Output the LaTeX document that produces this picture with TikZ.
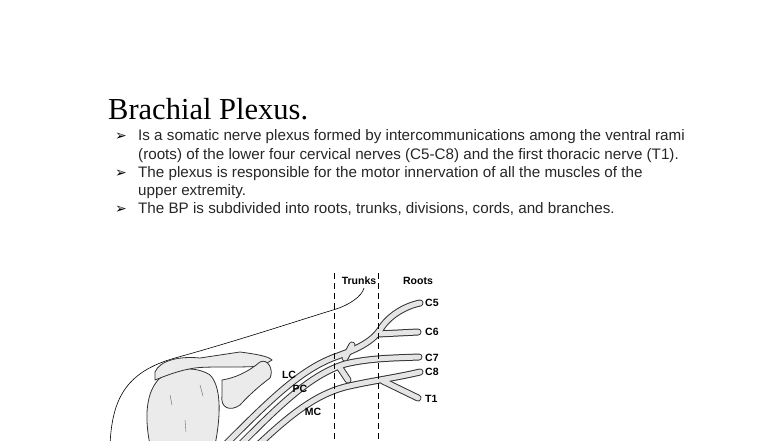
\documentclass[tikz,border=0pt]{standalone}
\usepackage{fontspec}
\setmainfont{Liberation Serif}
\newfontfamily\arial{Liberation Sans}
\newfontfamily\dv{DejaVu Sans}
\begin{document}
\begin{tikzpicture}[x=1pt,y=-1pt,
  bul/.style={anchor=base west,inner sep=0pt,font=\arial\fontsize{15.2}{16}\selectfont,text=black!85},
  arr/.style={anchor=base west,inner sep=0pt,font=\dv\fontsize{14}{15}\selectfont},
  lab/.style={inner sep=0pt,font=\arial\bfseries\fontsize{10.5}{11}\selectfont},
  nerveO/.style={line width=7pt,line cap=round,black!80},
  nerveI/.style={line width=5pt,line cap=round,black!10},
  bone/.style={draw=black!80,fill=black!8,line width=0.8pt}]
\useasboundingbox (0,0) rectangle (784,441);
\begin{scope}
\clip (0,0) rectangle (784,441);
\node[anchor=base west,inner sep=0pt,font=\fontsize{30.5}{32}\selectfont] (title) at (108,120) {Brachial Plexus.};
\node[arr] (a1) at (115,141) {➢};
\node[bul] (b1) at (138,141) {Is a somatic nerve plexus formed by intercommunications among the ventral rami};
\node[bul] (b1b) at (138,159) {(roots) of the lower four cervical nerves (C5-C8) and the first thoracic nerve (T1).};
\node[arr] (a2) at (115,177) {➢};
\node[bul] (b2) at (138,177) {The plexus is responsible for the motor innervation of all the muscles of the};
\node[bul] (b2b) at (138,195) {upper extremity.};
\node[arr] (a3) at (115,213) {➢};
\node[bul] (b3) at (138,213) {The BP is subdivided into roots, trunks, divisions, cords, and branches.};
% skin outline
\draw[line width=0.6pt] (110,445) .. controls (112,400) and (125,372) .. (175,358) .. controls (240,340) and (300,320) .. (333,310) .. controls (350,305) and (362,296) .. (364,288);
% bones
\draw[bone] (150,445) .. controls (145,420) and (145,395) .. (158,380) .. controls (170,368) and (195,365) .. (210,375) .. controls (220,385) and (222,410) .. (215,445) -- cycle;
\draw[bone] (155,372) .. controls (160,360) and (180,356) .. (200,358) -- (240,352) .. controls (255,354) and (268,356) .. (272,360) -- (262,366) .. controls (240,368) and (210,366) .. (195,368) .. controls (180,370) and (165,376) .. (155,380) -- cycle;
\draw[bone] (222,380) .. controls (235,378) and (248,372) .. (260,362) .. controls (268,358) and (274,370) .. (270,378) .. controls (262,384) and (252,392) .. (240,405) .. controls (230,412) and (220,408) .. (222,395) -- cycle;
\draw[black!60,line width=0.4pt] (170,395) -- (172,405) (185,420) -- (186,432) (200,385) -- (203,396);
% nerves
\foreach \s in {nerveO,nerveI}{
 \draw[\s] (225,445) .. controls (270,400) and (300,370) .. (335,357) .. controls (355,350) and (372,342) .. (380,330) .. controls (388,316) and (405,306) .. (420,303);
 \draw[\s] (378,334) -- (418,332);
 \draw[\s] (240,445) .. controls (280,405) and (310,375) .. (345,364) .. controls (370,358) and (395,358) .. (419,357);
 \draw[\s] (258,445) .. controls (290,415) and (315,395) .. (345,387) .. controls (370,381) and (395,378) .. (420,372);
 \draw[\s] (383,381) -- (418,398);
 \draw[\s] (340,368) -- (348,380);
 \draw[\s] (345,358) -- (352,345);
}
% dashed lines
\draw[line width=0.8pt,dash pattern=on 6pt off 4pt] (334,273) -- (334,441);
\draw[line width=0.8pt,dash pattern=on 6pt off 4pt] (378,273) -- (378,441);
\node[lab] (tr) at (359,281) {Trunks};
\node[lab] (ro) at (418,281) {Roots};
\node[lab,anchor=west] (c5) at (425,303) {C5};
\node[lab,anchor=west] (c6) at (425,332) {C6};
\node[lab,anchor=west] (c7) at (425,358) {C7};
\node[lab,anchor=west] (c8) at (425,372) {C8};
\node[lab,anchor=west] (t1) at (425,399) {T1};
\node[lab] (lc) at (289,375) {LC};
\node[lab] (pc) at (300,389) {PC};
\node[lab] (mc) at (313,412) {MC};
\end{scope}
\end{tikzpicture}
\end{document}
